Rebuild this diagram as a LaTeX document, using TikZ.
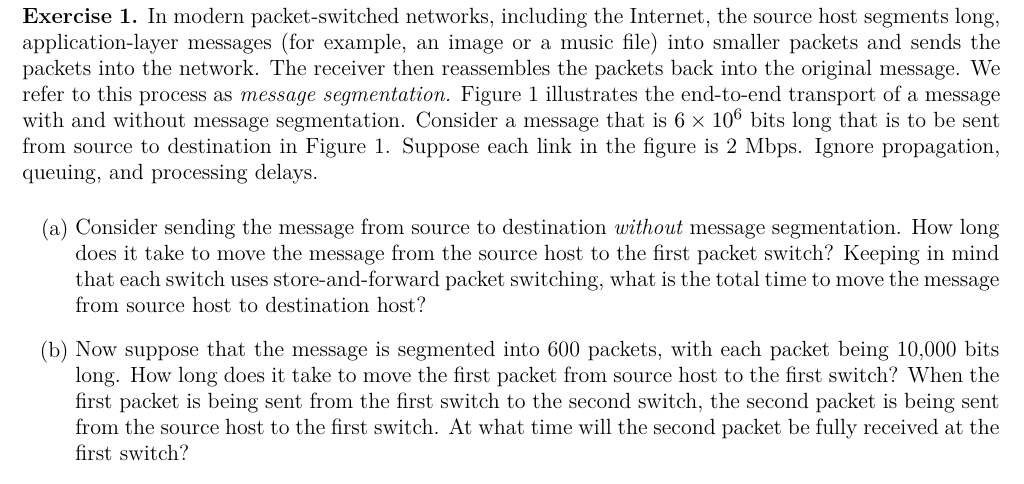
\documentclass[tikz,border=0pt]{standalone}
\tikzset{para/.style={anchor=north west,inner sep=0pt,align=justify,font=\fontsize{11}{13}\selectfont}}
\begin{document}
\begin{tikzpicture}
\useasboundingbox[fill=white] (0pt,0pt) rectangle (512pt,-241.5pt);
\node[para,text width=489pt] (intro) at (11pt,-4pt) {\textbf{Exercise 1.} In modern packet-switched networks, including the Internet, the source host segments long,\linebreak
application-layer messages (for example, an image or a music file) into smaller packets and sends the\linebreak
packets into the network. The receiver then reassembles the packets back into the original message. We\linebreak
refer to this process as \emph{message segmentation.} Figure 1 illustrates the end-to-end transport of a message\linebreak
with and without message segmentation. Consider a message that is $6\times10^6$ bits long that is to be sent\linebreak
from source to destination in Figure 1. Suppose each link in the figure is 2 Mbps. Ignore propagation,\linebreak
queuing, and processing delays.};
\node[para,anchor=north east] (la) at (34.5pt,-109.5pt) {(a)};
\node[para,text width=462pt] (a) at (37.5pt,-109.5pt) {Consider sending the message from source to destination \emph{without} message segmentation. How long\linebreak
does it take to move the message from the source host to the first packet switch? Keeping in mind\linebreak
that each switch uses store-and-forward packet switching, what is the total time to move the message\linebreak
from source host to destination host?};
\node[para,anchor=north east] (lb) at (34.5pt,-170.5pt) {(b)};
\node[para,text width=462pt] (b) at (37.5pt,-170.5pt) {Now suppose that the message is segmented into 600 packets, with each packet being 10,000 bits\linebreak
long. How long does it take to move the first packet from source host to the first switch? When the\linebreak
first packet is being sent from the first switch to the second switch, the second packet is being sent\linebreak
from the source host to the first switch. At what time will the second packet be fully received at the\linebreak
first switch?};
\end{tikzpicture}
\end{document}
